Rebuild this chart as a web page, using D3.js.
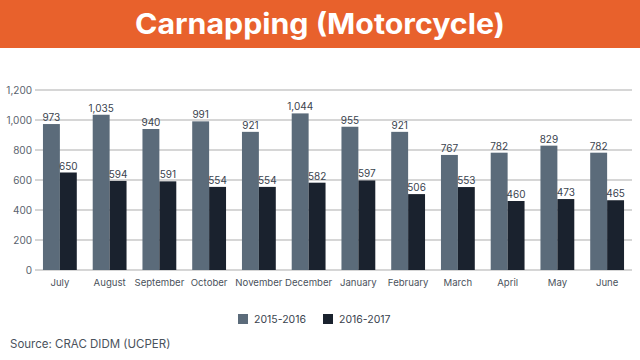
<!DOCTYPE html>
<html><head><meta charset="utf-8">
<script src="https://cdn.jsdelivr.net/npm/d3@7"></script>
<style>body{margin:0;background:#fff;}svg{display:block;}</style>
</head><body>
<svg id="c" width="640" height="360"></svg>
<script>
const months = ["July","August","September","October","November","December","January","February","March","April","May","June"];
const series = ["2015-2016","2016-2017"];
const v2015 = [973,1035,940,991,921,1044,955,921,767,782,829,782];
const v2016 = [650,594,591,554,554,582,597,506,553,460,473,465];
const yTicks = [0,200,400,600,800,1000,1200];
const colors = ["#5b6b7a","#1a222e"];

const svg = d3.select("#c");
const W = 640;
svg.append("rect").attr("x",0).attr("y",0).attr("width",W).attr("height",48).attr("fill","#e8612c");
svg.append("text").attr("x",W/2).attr("y",33.5).attr("text-anchor","middle")
  .attr("fill","#fff").attr("font-family","Inter, Roboto, sans-serif").attr("font-weight","bold")
  .attr("font-size",28).attr("textLength",370).attr("lengthAdjust","spacingAndGlyphs").text("Carnapping (Motorcycle)");

const x0 = d3.scaleBand().domain(months).range([35,632]).paddingInner(0.32).paddingOuter(0.16);
const x1 = d3.scaleBand().domain(series).range([0,x0.bandwidth()]);
const y = d3.scaleLinear().domain([0,1200]).range([270,90]);

const font = "Inter, 'Noto Sans', sans-serif";
const fs = 9.6;
const g = svg.append("g");
g.selectAll("line.grid").data(yTicks).join("line")
  .attr("x1",35).attr("x2",632).attr("y1",d=>y(d)).attr("y2",d=>y(d))
  .attr("stroke","#c8c8c8").attr("stroke-width",1.5);
const yAxis = d3.axisLeft(y).tickValues(yTicks).tickSize(0).tickPadding(0).tickFormat(d3.format(","));
const ya = svg.append("g").attr("transform","translate(32,0)").call(yAxis);
ya.select(".domain").remove();
ya.selectAll("text").attr("font-family",font).attr("font-size",10).attr("fill","#5a636e");

const xAxis = d3.axisBottom(x0).tickSize(0).tickPadding(0);
const xa = svg.append("g").attr("transform","translate(0,279)").call(xAxis);
xa.select(".domain").remove();
xa.selectAll("text").attr("font-family",font).attr("font-size",fs).attr("fill","#4a525c").attr("dy","0.71em");

const data = months.map((m,i)=>({m, vals:[{s:series[0],v:v2015[i]},{s:series[1],v:v2016[i]}]}));
const grp = svg.append("g").selectAll("g").data(data).join("g")
  .attr("transform",d=>`translate(${x0(d.m)},0)`);
grp.selectAll("rect").data(d=>d.vals).join("rect")
  .attr("x",d=>x1(d.s)).attr("width",x1.bandwidth())
  .attr("y",d=>y(d.v)).attr("height",d=>y(0)-y(d.v))
  .attr("fill",(d,i)=>colors[i]);
grp.selectAll("text").data(d=>d.vals).join("text")
  .attr("x",d=>x1(d.s)+x1.bandwidth()/2).attr("y",d=>y(d.v)-3)
  .attr("text-anchor","middle").attr("font-family",font).attr("font-size",10)
  .attr("fill","#3a434e").text(d=>d3.format(",")(d.v));

const leg = svg.append("g");
const lx = [238,323];
series.forEach((s,i)=>{
  leg.append("rect").attr("x",lx[i]).attr("y",314).attr("width",10).attr("height",10).attr("fill",colors[i]);
  leg.append("text").attr("x",lx[i]+16).attr("y",323).attr("font-family",font).attr("font-size",10.5)
    .attr("fill","#3a434e").text(s);
});
svg.append("text").attr("x",10).attr("y",348).attr("font-family",font).attr("font-size",11.5)
  .attr("fill","#4a525c").text("Source: CRAC DIDM (UCPER)");
</script>
</body></html>
